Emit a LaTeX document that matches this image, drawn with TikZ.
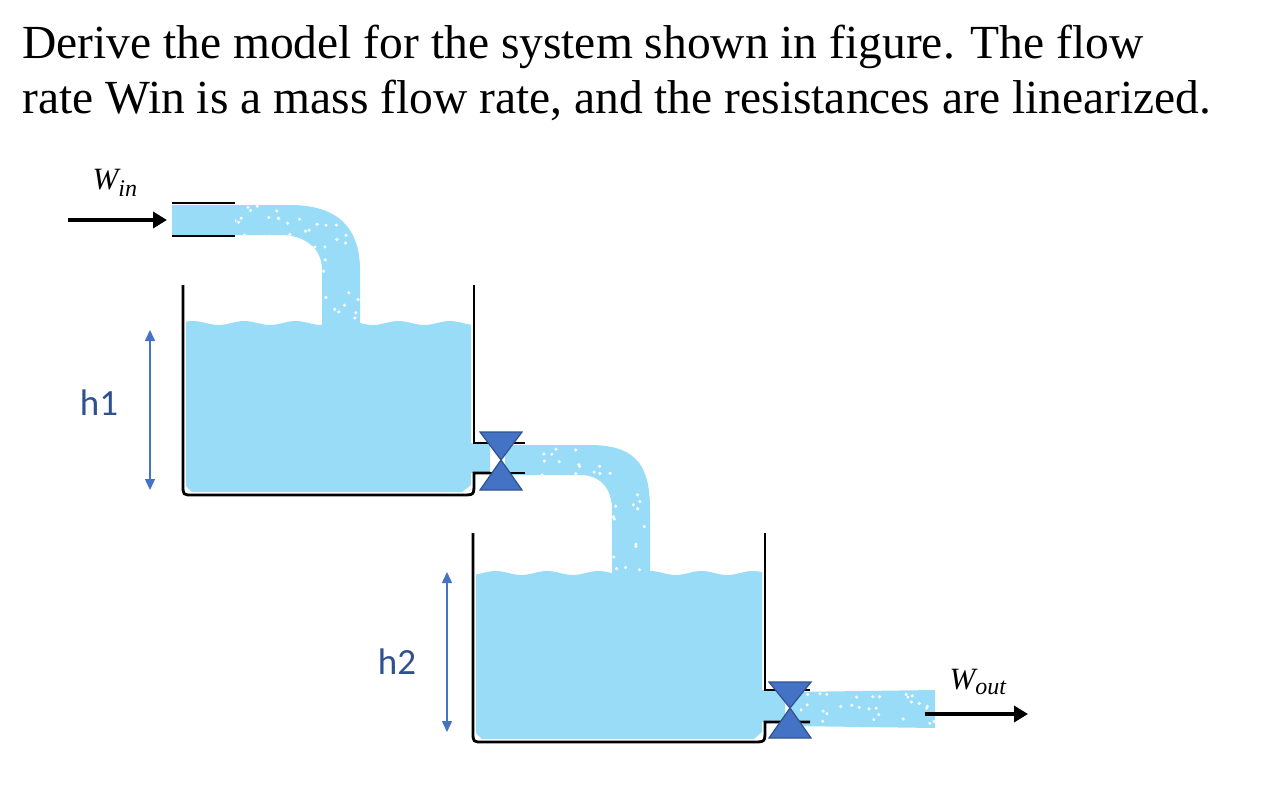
\documentclass[tikz,border=0pt]{standalone}
\usepackage{fontspec}
\setmainfont{Liberation Serif}
\newfontfamily\labfont{Carlito}
\usetikzlibrary{arrows.meta}
\definecolor{water}{RGB}{152,220,247}
\definecolor{valveblue}{RGB}{68,114,196}
\definecolor{valveedge}{RGB}{47,82,143}
\tikzset{
  wall/.style={line width=2.8pt,black},
  flowarrow/.style={line width=3.8pt,-{Triangle[length=14pt,width=16pt]}},
  harrow/.style={valveblue,line width=1.5pt,{Triangle[length=11pt,width=10pt]}-{Triangle[length=11pt,width=10pt]}},
  valvetri/.style={fill=valveblue,draw=valveedge,line width=1.2pt},
  lab/.style={font=\labfont\fontsize{37}{37}\selectfont,text=valveedge},
  wlab/.style={font=\itshape\fontsize{31}{31}\selectfont}
}
\begin{document}
\begin{tikzpicture}[x=1pt,y=-1pt]
\useasboundingbox (0,0) rectangle (1262,798);
% title
\node[anchor=base west,font=\fontsize{47.5}{56}\selectfont,inner sep=0] (t1) at (22,58) {Derive the model for the system shown in figure. The flow};
\node[anchor=base west,font=\fontsize{47.5}{56}\selectfont,inner sep=0] (t2) at (22,113) {rate Win is a mass flow rate, and the resistances are linearized.};
% tank 1 water
\fill[water] (186,325) plot[domain=186:471,samples=80,smooth] (\x,{323+2*sin(\x*7)}) -- (471,443) -- (490,443) -- (490,473) -- (471,473) -- (471,485) -- (462,492) -- (192,492) -- (186,486) -- cycle;
% stream 1
\fill[water] (172,205) -- (290,205) .. controls (340,205) and (360,230) .. (360,270) -- (360,326) -- (322,326) -- (322,270) .. controls (322,248) and (305,235) .. (280,235) -- (172,235) -- cycle;
\pgfmathsetseed{7}
\begin{scope}
\clip (235,205) -- (290,205) .. controls (340,205) and (360,230) .. (360,270) -- (360,326) -- (322,326) -- (322,270) .. controls (322,248) and (305,235) .. (280,235) -- (235,235) -- cycle;
\foreach \i in {1,...,70}{\fill[white] ({235+125*rnd},{205+120*rnd}) circle (1.7);}
\end{scope}
% tank 1 walls
\draw[wall] (183,285) -- (183,485) .. controls (183,495) .. (193,495) -- (462,495) .. controls (474,495) .. (474,483) -- (474,473) -- (490,473);
\draw[wall] (474,285) -- (474,443) -- (490,443);
\draw[wall] (172,203) -- (235,203);
\draw[wall] (172,236) -- (235,236);
% stream 2
\fill[water] (505,445) -- (590,445) .. controls (640,445) and (650,470) .. (650,510) -- (650,575) -- (612,575) -- (612,510) .. controls (612,488) and (600,475) .. (580,475) -- (505,475) -- cycle;
\begin{scope}
\clip (520,445) -- (590,445) .. controls (640,445) and (650,470) .. (650,510) -- (650,575) -- (612,575) -- (612,510) .. controls (612,488) and (600,475) .. (580,475) -- (520,475) -- cycle;
\foreach \i in {1,...,55}{\fill[white] ({520+130*rnd},{445+130*rnd}) circle (1.7);}
\end{scope}
\draw[wall] (490,443) -- (525,443);
\draw[wall] (490,473) -- (525,473);
% valve 1
\coordinate (v1) at (501,460);
\draw[valvetri] (480,432) -- (522,432) -- (v1) -- cycle;
\draw[valvetri] (480,490) -- (522,490) -- (v1) -- cycle;
% tank 2 water
\fill[water] (476,575) plot[domain=476:762,samples=80,smooth] (\x,{573+2*sin(\x*7+40)}) -- (762,690) -- (785,690) -- (785,722) -- (762,722) -- (762,732) -- (754,739) -- (482,739) -- (476,733) -- cycle;
% outlet stream
\fill[water] (790,692) -- (935,690) -- (935,728) -- (790,726) -- cycle;
\begin{scope}
\clip (800,692) -- (935,690) -- (935,728) -- (800,726) -- cycle;
\foreach \i in {1,...,30}{\fill[white] ({800+135*rnd},{692+36*rnd}) circle (1.7);}
\end{scope}
\draw[wall] (473,533) -- (473,732) .. controls (473,742) .. (483,742) -- (753,742) .. controls (765,742) .. (765,730) -- (765,722) -- (810,722);
\draw[wall] (765,533) -- (765,690) -- (810,690);
% valve 2
\coordinate (v2) at (790,708);
\draw[valvetri] (769,682) -- (811,682) -- (v2) -- cycle;
\draw[valvetri] (769,738) -- (811,738) -- (v2) -- cycle;
% flow arrows and labels
\coordinate (winS) at (68,220);
\coordinate (winE) at (167,220);
\draw[flowarrow] (winS) -- (winE);
\node[wlab] (win) at (115,183) {W\textsubscript{\fontsize{24}{24}\selectfont in}};
\coordinate (woS) at (925,714);
\coordinate (woE) at (1028,714);
\draw[flowarrow] (woS) -- (woE);
\node[wlab] (wout) at (978,682) {W\textsubscript{\fontsize{24}{24}\selectfont out}};
% heights
\coordinate (h1t) at (150,330);
\coordinate (h1b) at (150,490);
\draw[harrow] (h1t) -- (h1b);
\node[lab] (h1) at (99,403) {h1};
\coordinate (h2t) at (447,572);
\coordinate (h2b) at (447,732);
\draw[harrow] (h2t) -- (h2b);
\node[lab] (h2) at (397,662) {h2};
\end{tikzpicture}
\end{document}
